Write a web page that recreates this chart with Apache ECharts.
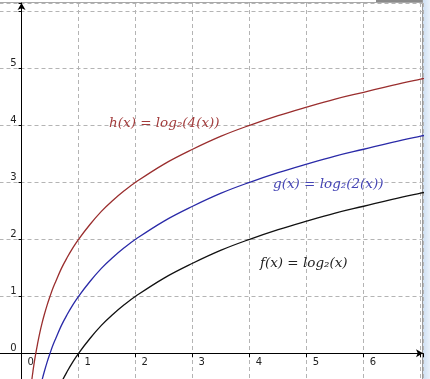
<!DOCTYPE html>
<html>
<head>
<meta charset="utf-8">
<script src="https://cdn.jsdelivr.net/npm/echarts@6/dist/echarts.min.js"></script>
<style>html,body{margin:0;padding:0;background:#fff}#c{width:430px;height:379px}</style>
</head>
<body>
<div id="c"></div>
<script>
// sample x positions
const xs = [0.17,0.18,0.2,0.22,0.25,0.28,0.32,0.36,0.4,0.45,0.5,0.55,0.6,0.7,0.8,0.9,1,1.2,1.4,1.6,1.8,2,2.5,3,3.5,4,4.5,5,5.5,6,6.5,7,7.1];
// f(x) = log2(x)
const fVals = [-2.56,-2.47,-2.32,-2.18,-2.00,-1.84,-1.64,-1.47,-1.32,-1.15,-1.00,-0.86,-0.74,-0.51,-0.32,-0.15,0,0.26,0.49,0.68,0.85,1,1.32,1.58,1.81,2,2.17,2.32,2.46,2.58,2.70,2.81,2.83];
// g(x) = log2(2x)
const gVals = [-1.56,-1.47,-1.32,-1.18,-1.00,-0.84,-0.64,-0.47,-0.32,-0.15,0,0.14,0.26,0.49,0.68,0.85,1,1.26,1.49,1.68,1.85,2,2.32,2.58,2.81,3,3.17,3.32,3.46,3.58,3.70,3.81,3.83];
// h(x) = log2(4x)
const hVals = [-0.56,-0.47,-0.32,-0.18,0,0.16,0.36,0.53,0.68,0.85,1,1.14,1.26,1.49,1.68,1.85,2,2.26,2.49,2.68,2.85,3,3.32,3.58,3.81,4,4.17,4.32,4.46,4.58,4.70,4.81,4.83];
const labels = ['f(x) = log₂(x)', 'g(x) = log₂(2(x))', 'h(x) = log₂(4(x))'];
const xTickMax = 6, yTickMax = 5;
const xMin = -1, xMax = 7.04, yMin = -1, yMax = 6.146;

const anchors = { f: [4.18, 1.58], g: [4.41, 2.96], h: [1.535, 4.03] };
const colors = { f: '#111111', g: '#2a2aa8', h: '#9a2e2e' };
const textColors = { f: '#222222', g: '#4545b5', h: '#a33d3d' };

function pts(v) { return xs.map((x, i) => [x, v[i]]); }
function mk(name, key, vals, text) {
  return {
    name, type: 'line', data: pts(vals), showSymbol: false, symbol: 'none',
    xAxisIndex: 0, yAxisIndex: 0,
    smooth: 0.4, clip: true,
    lineStyle: { color: colors[key], width: 1.3 },
    markPoint: {
      symbol: 'circle', symbolSize: 0, silent: true,
      data: [{ coord: anchors[key], value: 0 }],
      label: { show: true, position: 'right', distance: 0, formatter: text,
        fontFamily: 'DejaVu Serif', fontStyle: 'italic', fontSize: 13.5, color: textColors[key] }
    }
  };
}

// plot geometry (pixels)
const L = -35.5, T = 3, W = 458.5, H = 407.3;
const zeroY = T + H * (yMax - 0) / (yMax - yMin);   // pixel row of y = 0
const zeroX = L + W * (0 - xMin) / (xMax - xMin);   // pixel column of x = 0

const chart = echarts.init(document.getElementById('c'), null, { renderer: 'canvas' });
const dash = { color: '#b4b4b4', type: [4, 3], width: 1 };
const hidden = { type: 'value', show: false, min: 0, max: 1 };
const lbl = { fontFamily: 'DejaVu Sans', fontSize: 10, color: '#222' };
chart.setOption({
  animation: false,
  backgroundColor: '#ffffff',
  grid: [
    { left: L, top: T, width: W, height: H, outerBoundsMode: 'none' },
    { left: L, top: T, width: W, height: zeroY - T, outerBoundsMode: 'none' },
    { left: zeroX, top: T, width: L + W - zeroX, height: H, outerBoundsMode: 'none' }
  ],
  xAxis: [
    { gridIndex: 0, type: 'value', min: xMin, max: xMax, interval: 1,
      axisLine: { show: false }, axisTick: { show: false }, axisLabel: { show: false },
      splitLine: { show: true, lineStyle: dash } },
    { gridIndex: 1, type: 'value', position: 'bottom', min: xMin, max: xMax, interval: 1,
      axisLine: { show: true, onZero: false, lineStyle: { color: '#000', width: 1 }, symbol: ['none', 'arrow'], symbolSize: [6, 7] },
      axisTick: { show: true, length: 4, lineStyle: { color: '#000' } },
      axisLabel: Object.assign({ margin: 4, align: 'left', padding: [0, 0, 0, 6],
        formatter: v => (Number.isInteger(v) && v >= 0 && v <= xTickMax) ? String(v) : '' }, lbl),
      splitLine: { show: false } },
    Object.assign({ gridIndex: 2 }, hidden)
  ],
  yAxis: [
    { gridIndex: 0, type: 'value', min: yMin, max: yMax, interval: 1,
      axisLine: { show: false }, axisTick: { show: false }, axisLabel: { show: false },
      splitLine: { show: true, lineStyle: dash } },
    Object.assign({ gridIndex: 1 }, hidden),
    { gridIndex: 2, type: 'value', position: 'left', min: yMin, max: yMax, interval: 1,
      axisLine: { show: true, onZero: false, lineStyle: { color: '#000', width: 1 }, symbol: ['none', 'arrow'], symbolSize: [6, 7] },
      axisTick: { show: true, length: 3, lineStyle: { color: '#000' } },
      axisLabel: Object.assign({ margin: 5, verticalAlign: 'bottom',
        formatter: v => (Number.isInteger(v) && v >= 0 && v <= yTickMax) ? String(v) : '' }, lbl),
      splitLine: { show: false } }
  ],
  series: [
    mk('h', 'h', hVals, labels[2]),
    mk('g', 'g', gVals, labels[1]),
    mk('f', 'f', fVals, labels[0])
  ],
  graphic: [
    { type: 'rect', shape: { x: 423, y: 0, width: 7, height: 379 }, silent: true,
      style: { fill: new echarts.graphic.LinearGradient(0, 0, 1, 0, [{ offset: 0, color: '#cfe0f3' }, { offset: 1, color: '#eaf2fb' }]) } },
    { type: 'line', shape: { x1: 422.5, y1: 0, x2: 422.5, y2: 379 }, silent: true, style: { stroke: '#9a9a9a', lineWidth: 1 } },
    { type: 'line', shape: { x1: 0, y1: 2.5, x2: 423, y2: 2.5 }, silent: true, style: { stroke: '#a8a8a8', lineWidth: 1 } },
    { type: 'rect', shape: { x: 376, y: 0, width: 46, height: 2 }, silent: true, style: { fill: '#8a8a8a' } }
  ]
});
</script>
</body>
</html>
